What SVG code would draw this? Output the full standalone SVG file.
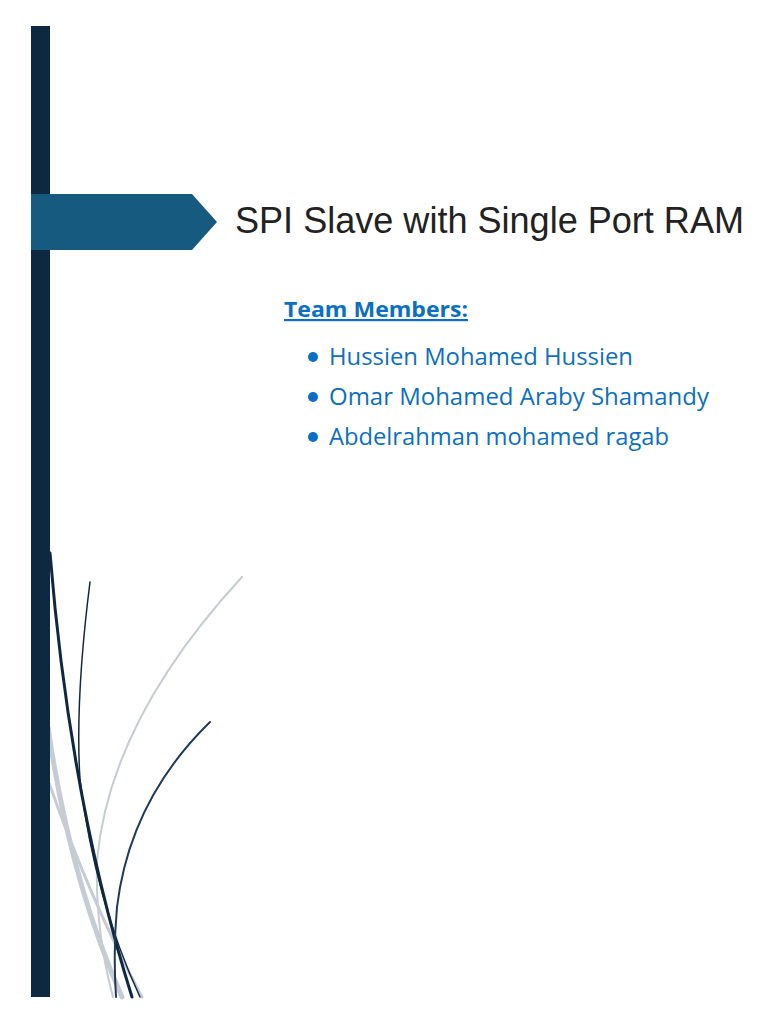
<svg xmlns="http://www.w3.org/2000/svg" width="768" height="1024" viewBox="0 0 768 1024">
<style>
.t{font-family:"Liberation Sans",Arial,sans-serif}
.m{font-family:"Open Sans","Noto Sans",sans-serif;fill:#0b6fc4;font-size:23px}
</style>
<rect width="768" height="1024" fill="#fff"/>
<g fill="none" stroke-linecap="round">
<path d="M48,727 Q70,880 122,997" stroke="#c5ccd3" stroke-width="5"/>
<path d="M48,780 Q90,900 142,997" stroke="#c5ccd3" stroke-width="3"/>
<path d="M242,577 Q110,720 97,860 Q95,930 113,997" stroke="#c5ccd3" stroke-width="2"/>
<path d="M50,553 Q70,800 132,997" stroke="#0f2841" stroke-width="3"/>
<path d="M90,582 Q75,700 80,780 Q95,900 140,997" stroke="#0f2841" stroke-width="1.5"/>
<path d="M210,722 Q130,800 117,907 Q113,950 116,997" stroke="#1e3a5a" stroke-width="2"/>
</g>
<rect x="31" y="26" width="19" height="971" fill="#0f2841"/>
<polygon points="31,194 192,194 217,222 192,250 31,250" fill="#165b7f"/>
<text class="t" x="235" y="233" font-size="36" fill="#222" textLength="509" lengthAdjust="spacingAndGlyphs">SPI Slave with Single Port RAM</text>
<text x="284" y="317" font-family="Open Sans,Noto Sans,sans-serif" font-size="22" font-weight="bold" fill="#0b6fc4" text-decoration="underline" textLength="184" lengthAdjust="spacingAndGlyphs">Team Members:</text>
<g class="m">
<circle cx="313" cy="357" r="5" fill="#0b6fc4"/><text x="329" y="365" textLength="304" lengthAdjust="spacingAndGlyphs">Hussien Mohamed Hussien</text>
<circle cx="313" cy="397" r="5" fill="#0b6fc4"/><text x="329" y="405" textLength="380" lengthAdjust="spacingAndGlyphs">Omar Mohamed Araby Shamandy</text>
<circle cx="313" cy="437" r="5" fill="#0b6fc4"/><text x="329" y="445" textLength="340" lengthAdjust="spacingAndGlyphs">Abdelrahman mohamed ragab</text>
</g>
</svg>
